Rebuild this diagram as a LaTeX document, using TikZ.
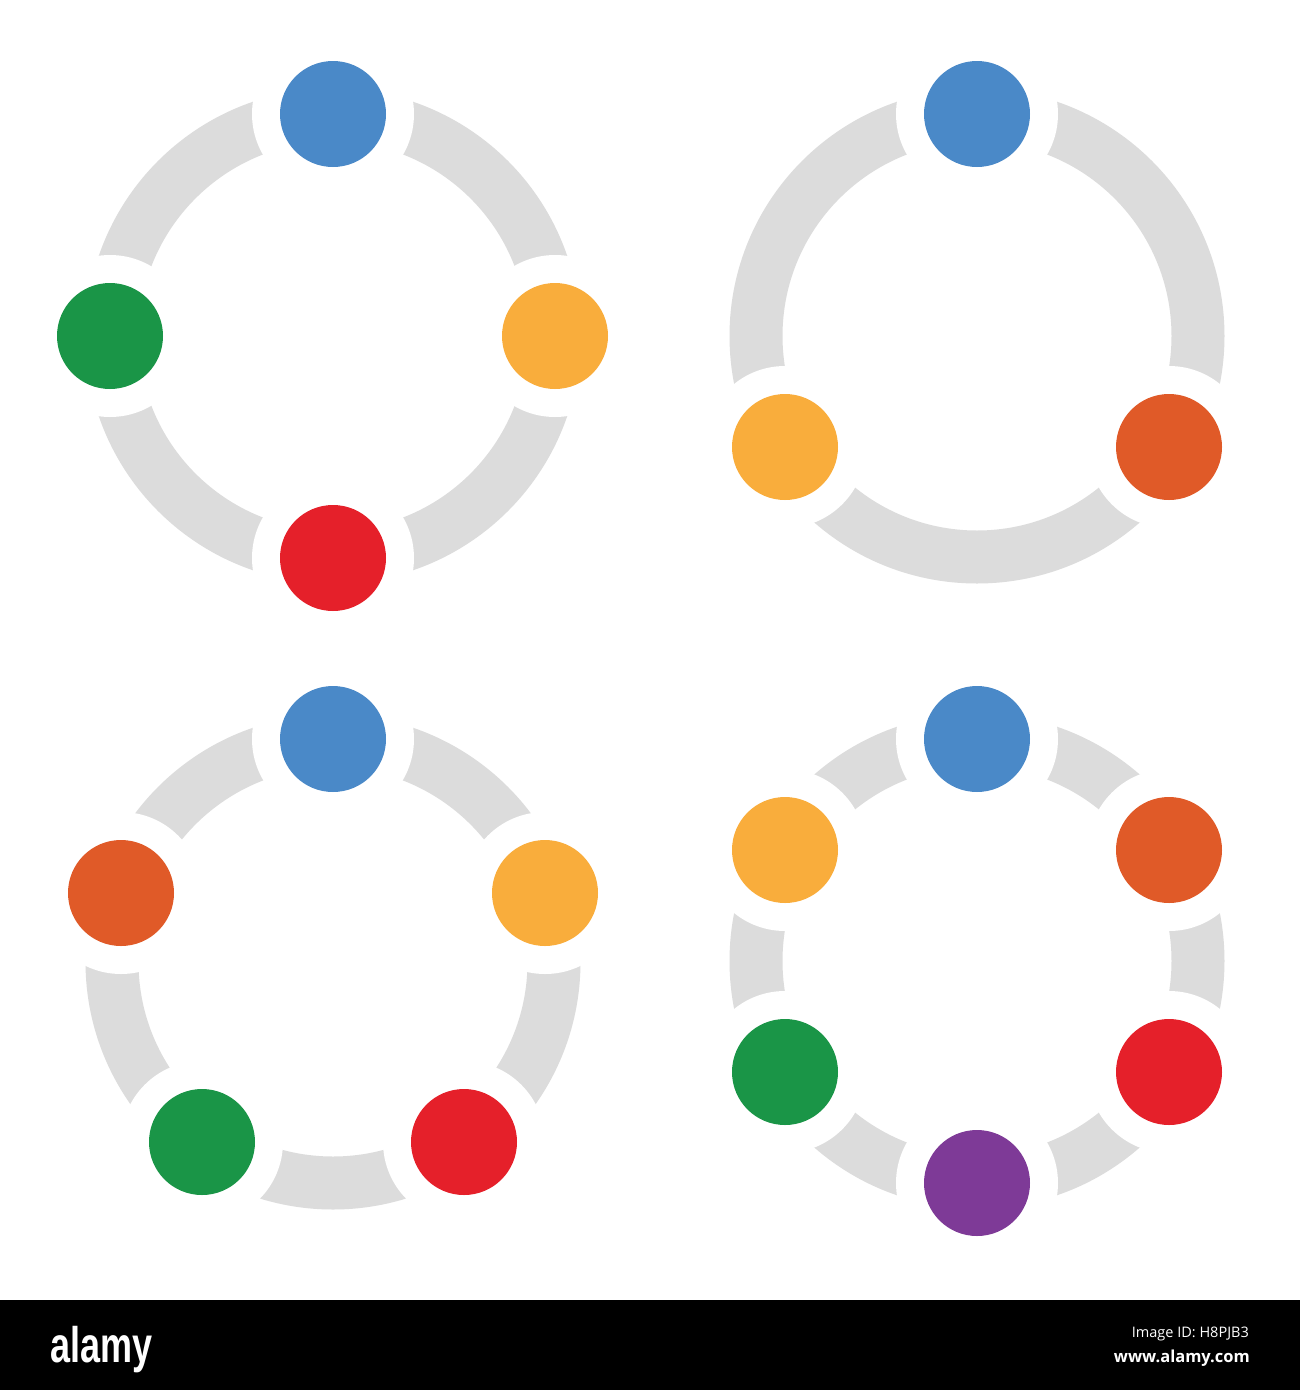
\documentclass[tikz,border=0pt]{standalone}
\usepackage{fontspec}
\setmainfont{Liberation Sans}
\newfontfamily\opensans{Open Sans}
\definecolor{cblue}{HTML}{4A89C8}
\definecolor{cgreen}{HTML}{1A9547}
\definecolor{cyellow}{HTML}{F9AD3C}
\definecolor{cred}{HTML}{E5202A}
\definecolor{corange}{HTML}{E05A28}
\definecolor{cpurple}{HTML}{7E3A97}
\definecolor{cgray}{HTML}{DCDCDC}
\begin{document}
\begin{tikzpicture}[x=1pt,y=-1pt,
  ringband/.style={circle,draw=cgray,line width=53pt,minimum size=442pt,inner sep=0pt},
  gapdisc/.style={circle,fill=white,minimum size=162pt,inner sep=0pt},
  dot/.style={circle,minimum size=106pt,inner sep=0pt}]
\useasboundingbox (0,0) rectangle (1300,1390);
\fill[white] (0,0) rectangle (1300,1390);
% rings
\node[ringband] (r1) at (333,336) {};
\node[ringband] (r2) at (977,336) {};
\node[ringband] (r3) at (333,962) {};
\node[ringband] (r4) at (977,961) {};
% gaps
\foreach \p in {(333,114),(555,336),(333,558),(110,336),
                (977,114),(785,447),(1169,447),
                (333,739),(121,893),(545,893),(202,1142),(464,1142),
                (977,739),(785,850),(1169,850),(1169,1072),(977,1183),(785,1072)}
  \node[gapdisc] at \p {};
% diagram 1
\node[dot,fill=cblue] (a1) at (333,114) {};
\node[dot,fill=cyellow] (a2) at (555,336) {};
\node[dot,fill=cred] (a3) at (333,558) {};
\node[dot,fill=cgreen] (a4) at (110,336) {};
% diagram 2
\node[dot,fill=cblue] (b1) at (977,114) {};
\node[dot,fill=cyellow] (b2) at (785,447) {};
\node[dot,fill=corange] (b3) at (1169,447) {};
% diagram 3
\node[dot,fill=cblue] (c1) at (333,739) {};
\node[dot,fill=corange] (c2) at (121,893) {};
\node[dot,fill=cyellow] (c3) at (545,893) {};
\node[dot,fill=cgreen] (c4) at (202,1142) {};
\node[dot,fill=cred] (c5) at (464,1142) {};
% diagram 4
\node[dot,fill=cblue] (d1) at (977,739) {};
\node[dot,fill=cyellow] (d2) at (785,850) {};
\node[dot,fill=corange] (d3) at (1169,850) {};
\node[dot,fill=cred] (d4) at (1169,1072) {};
\node[dot,fill=cpurple] (d5) at (977,1183) {};
\node[dot,fill=cgreen] (d6) at (785,1072) {};
% bottom bar
\fill[black] (0,1300) rectangle (1300,1390);
\node[anchor=base west,text=white,font=\bfseries\fontsize{50}{50}\selectfont,xscale=0.72,inner sep=0pt] (logo) at (50,1362) {alamy};
\node[anchor=base east,text=white,font=\opensans\fontsize{14.5}{15}\selectfont,inner sep=0pt] (imgid) at (1249,1337) {Image ID: H8PJB3};
\node[anchor=base east,text=white,font=\opensans\bfseries\fontsize{16.5}{17}\selectfont,inner sep=0pt] (url) at (1250,1362) {www.alamy.com};
\end{tikzpicture}
\end{document}
